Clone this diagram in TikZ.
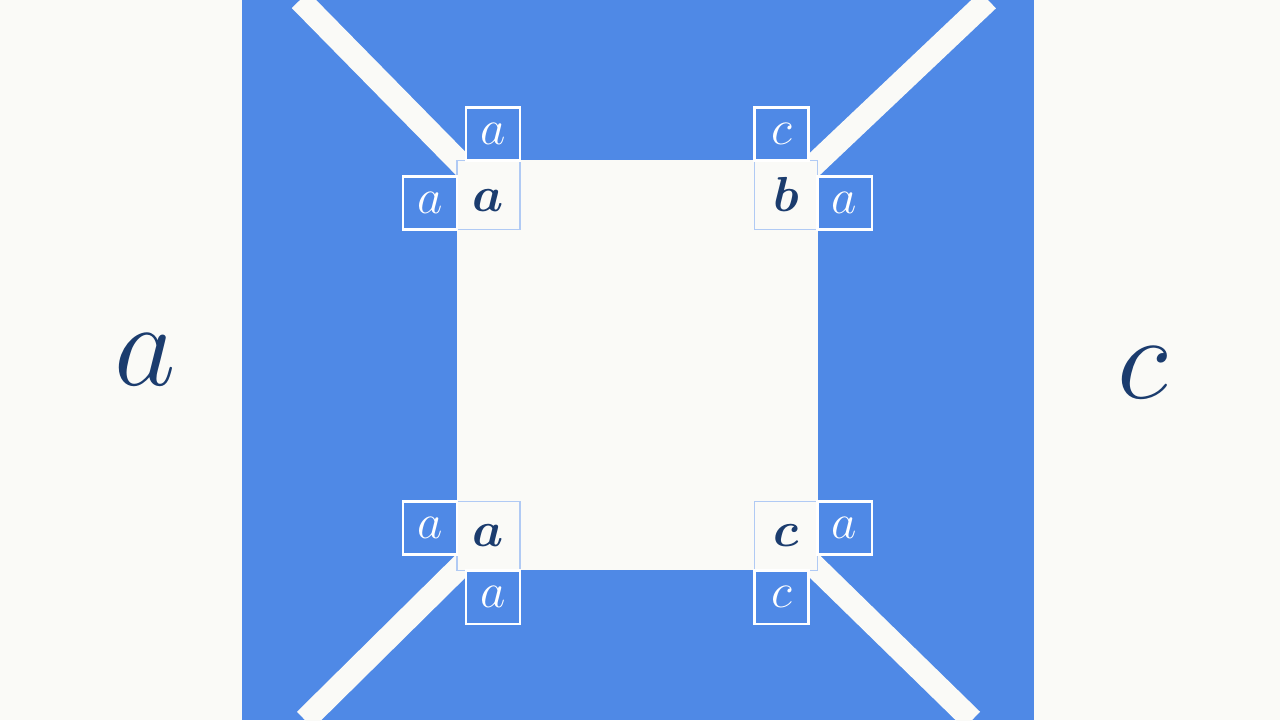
\RequirePackage{fix-cm}
\documentclass[tikz,border=0pt]{standalone}
\usepackage{amsmath}
\usepackage{tikz}
\usetikzlibrary{positioning}
\definecolor{paper}{HTML}{FAFAF7}
\definecolor{face}{HTML}{4F89E6}
\definecolor{ink}{HTML}{1B3C6E}

\begin{document}
\begin{tikzpicture}[x=0.01cm,y=-0.01cm,outer sep=0pt,
    tag box/.style={draw=white,line width=0.6pt,fill=face,text=white,inner sep=0pt,
      minimum width=0.54cm,minimum height=0.53cm,font=\fontsize{14}{14}\selectfont},
    corner box/.style={draw=face!45,line width=0.4pt,fill=paper,text=ink,inner sep=0pt,
      minimum width=0.63cm,minimum height=0.69cm,font=\fontsize{14}{14}\selectfont\boldmath},
    low text/.style={text height=0.32cm},
    side label/.style={text=ink,font=\fontsize{34}{34}\selectfont},
    band/.style={draw=paper,line width=0.23cm}]

  \useasboundingbox[fill=paper] (0,0) rectangle (1280,720);
  \fill[face] (242,0) rectangle (1034,720);

  % diagonal bands
  \coordinate (sq nw) at (475,178);
  \coordinate (sq ne) at (800,178);
  \coordinate (sq sw) at (475,552);
  \coordinate (sq se) at (800,552);
  \coordinate (top l) at (300,0);
  \coordinate (top r) at (988,0);
  \coordinate (bot l) at (305,720);
  \coordinate (bot r) at (972,720);
  \begin{scope}
    \clip (242,0) rectangle (1034,720);
    \draw[band] (top l) -- (sq nw);
    \draw[band] (top r) -- (sq ne);
    \draw[band] (bot l) -- (sq sw);
    \draw[band] (bot r) -- (sq se);
  \end{scope}
  \fill[paper] (457,160) rectangle (818,570);

  % corners
  \node[corner box,low text] (tl) at (488.5,195) {$a$};
  \node[tag box,above left=0pt and 0pt of tl.north east] (tl up) {$a$};
  \node[tag box,above left=0pt and 0pt of tl.south west] (tl left) {$a$};

  \node[corner box,low text] (tr) at (786,195) {$b$};
  \node[tag box,above right=0pt and 0pt of tr.north west] (tr up) {$c$};
  \node[tag box,above right=0pt and 0pt of tr.south east] (tr right) {$a$};

  \node[corner box] (bl) at (488.5,536) {$a$};
  \node[tag box,below left=0pt and 0pt of bl.north west] (bl left) {$a$};
  \node[tag box,below left=0pt and 0pt of bl.south east] (bl down) {$a$};

  \node[corner box] (br) at (786,536) {$c$};
  \node[tag box,below right=0pt and 0pt of br.north east] (br right) {$a$};
  \node[tag box,below right=0pt and 0pt of br.south west] (br down) {$c$};

  \node[side label] (left side) at (145,360) {$a$};
  \node[side label] (right side) at (1143,373) {$c$};
\end{tikzpicture}
\end{document}
